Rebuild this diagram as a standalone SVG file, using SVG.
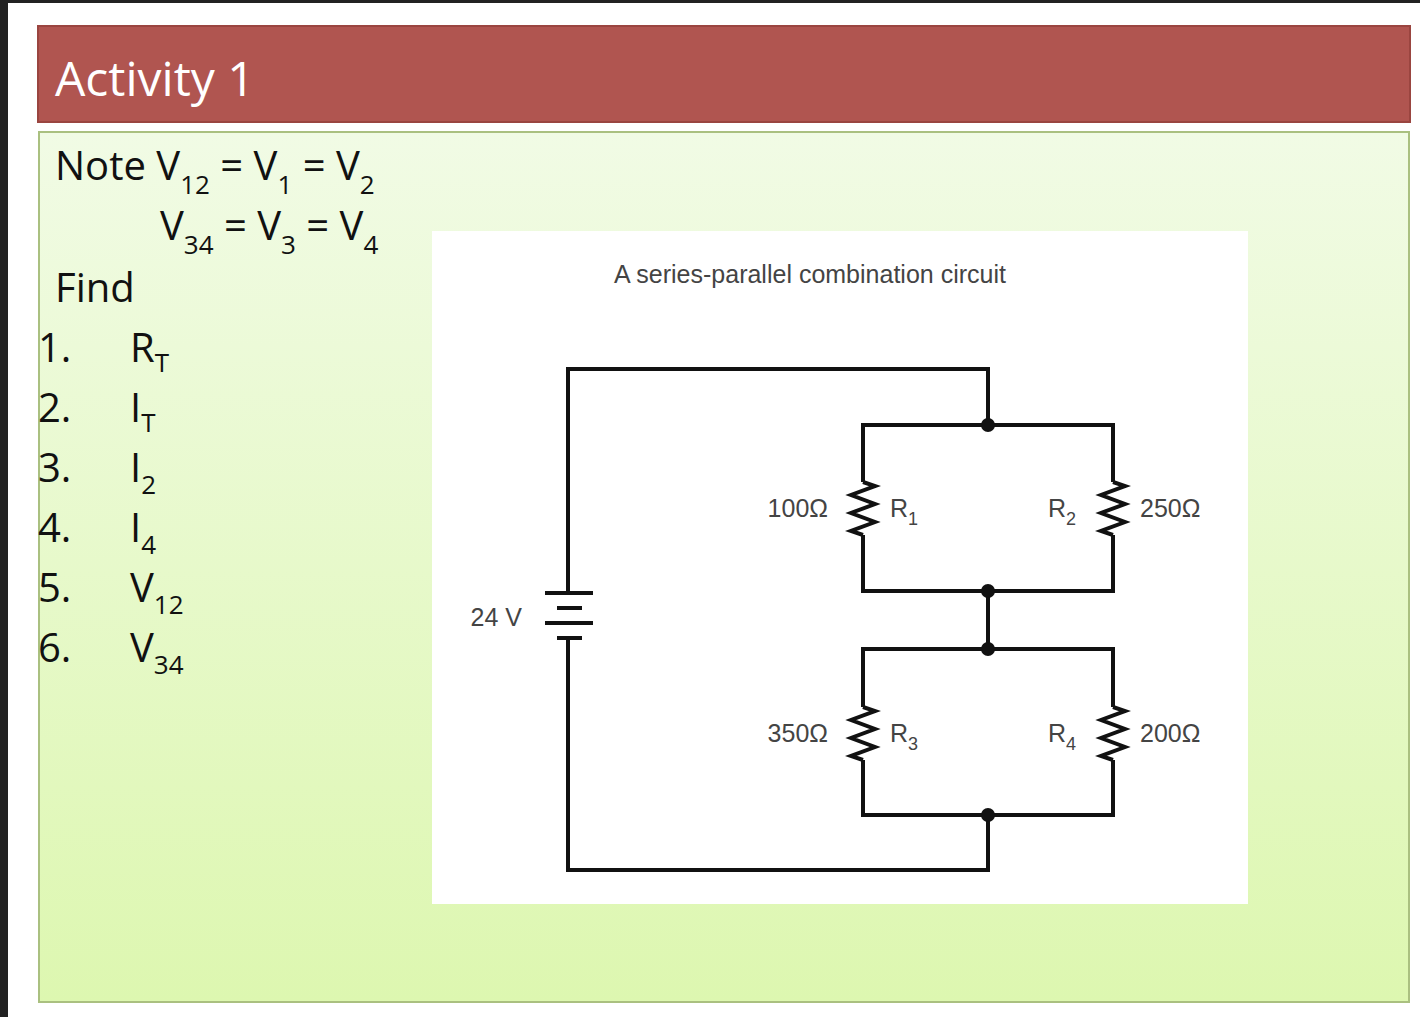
<svg xmlns="http://www.w3.org/2000/svg" width="1420" height="1017" viewBox="0 0 1420 1017">
<style>
.w{fill:none;stroke:#111;stroke-width:4;stroke-linejoin:miter}
.t{font-family:"Open Sans","Liberation Sans",sans-serif;fill:#111}
.c{font-family:"Liberation Sans",Arial,sans-serif;fill:#444;font-size:25px}
.n{fill:#111}
</style>
<rect width="1420" height="1017" fill="#222"/>
<rect x="8" y="3" width="1412" height="1014" fill="#fff"/>
<g id="title"><rect x="38" y="26" width="1372" height="96" fill="#b05550" stroke="#9a4540" stroke-width="2"/>
<text x="55" y="96" font-size="48" fill="#fff" font-family="'Open Sans','Liberation Sans',sans-serif">Activity 1</text></g>
<g id="body"><defs><linearGradient id="g" x1="0" y1="0" x2="0" y2="1"><stop offset="0" stop-color="#f1fbe5"/><stop offset="1" stop-color="#ddf7b0"/></linearGradient></defs>
<rect x="39" y="132" width="1370" height="870" fill="url(#g)" stroke="#aac080" stroke-width="2"/>
<text class="t" font-size="40" x="55" y="180">Note V<tspan font-size="26" dy="14">12</tspan><tspan dy="-14">  = V</tspan><tspan font-size="26" dy="14">1</tspan><tspan dy="-14"> = V</tspan><tspan font-size="26" dy="14">2</tspan></text>
<text class="t" font-size="40" x="160" y="240">V<tspan font-size="26" dy="14">34</tspan><tspan dy="-14"> = V</tspan><tspan font-size="26" dy="14">3</tspan><tspan dy="-14"> = V</tspan><tspan font-size="26" dy="14">4</tspan></text>
<text class="t" font-size="40" x="55" y="302">Find</text>
<text class="t" font-size="40" x="38" y="362">1.</text><text class="t" font-size="40" x="130" y="362">R<tspan font-size="26" dy="10">T</tspan></text>
<text class="t" font-size="40" x="38" y="422">2.</text><text class="t" font-size="40" x="130" y="422">I<tspan font-size="26" dy="10">T</tspan></text>
<text class="t" font-size="40" x="38" y="482">3.</text><text class="t" font-size="40" x="130" y="482">I<tspan font-size="26" dy="12">2</tspan></text>
<text class="t" font-size="40" x="38" y="542">4.</text><text class="t" font-size="40" x="130" y="542">I<tspan font-size="26" dy="12">4</tspan></text>
<text class="t" font-size="40" x="38" y="602">5.</text><text class="t" font-size="40" x="130" y="602">V<tspan font-size="26" dy="12">12</tspan></text>
<text class="t" font-size="40" x="38" y="662">6.</text><text class="t" font-size="40" x="130" y="662">V<tspan font-size="26" dy="12">34</tspan></text>
</g>
<g id="circuit">
<rect x="432" y="231" width="816" height="673" fill="#fff"/>
<text class="c" x="810" y="283" text-anchor="middle">A series-parallel combination circuit</text>
<g id="connectors">
<path class="w" d="M568,593 V369 H988 V425 M988,591 V649 M568,638 V870 H988 V815"/>
<path class="w" d="M863,482 V425 H1113 V482 M863,535 V591 H1113 V535 M863,707 V649 H1113 V707 M863,760 V815 H1113 V760"/>
</g>
<g id="R1"><path class="w" stroke-width="3.5" d="M863,482 l12,4 l-24,9 l24,9 l-24,9 l24,9 l-24,9 l12,4"/><text class="c" x="828" y="517" text-anchor="end">100Ω</text><text class="c" x="890" y="517">R<tspan font-size="18" dy="8">1</tspan></text></g>
<g id="R2"><path class="w" stroke-width="3.5" d="M1113,482 l12,4 l-24,9 l24,9 l-24,9 l24,9 l-24,9 l12,4"/><text class="c" x="1140" y="517">250Ω</text><text class="c" x="1048" y="517">R<tspan font-size="18" dy="8">2</tspan></text></g>
<g id="R3"><path class="w" stroke-width="3.5" d="M863,707 l12,4 l-24,9 l24,9 l-24,9 l24,9 l-24,9 l12,4"/><text class="c" x="828" y="742" text-anchor="end">350Ω</text><text class="c" x="890" y="742">R<tspan font-size="18" dy="8">3</tspan></text></g>
<g id="R4"><path class="w" stroke-width="3.5" d="M1113,707 l12,4 l-24,9 l24,9 l-24,9 l24,9 l-24,9 l12,4"/><text class="c" x="1140" y="742">200Ω</text><text class="c" x="1048" y="742">R<tspan font-size="18" dy="8">4</tspan></text></g>
<g id="battery"><path class="w" d="M545,593 H593 M557,608 H582 M545,623 H593 M557,638 H582"/><text class="c" x="522" y="626" text-anchor="end">24 V</text></g>
<g id="nodes"><circle class="n" cx="988" cy="425" r="7"/><circle class="n" cx="988" cy="591" r="7"/><circle class="n" cx="988" cy="649" r="7"/><circle class="n" cx="988" cy="815" r="7"/></g>
</g>
</svg>
